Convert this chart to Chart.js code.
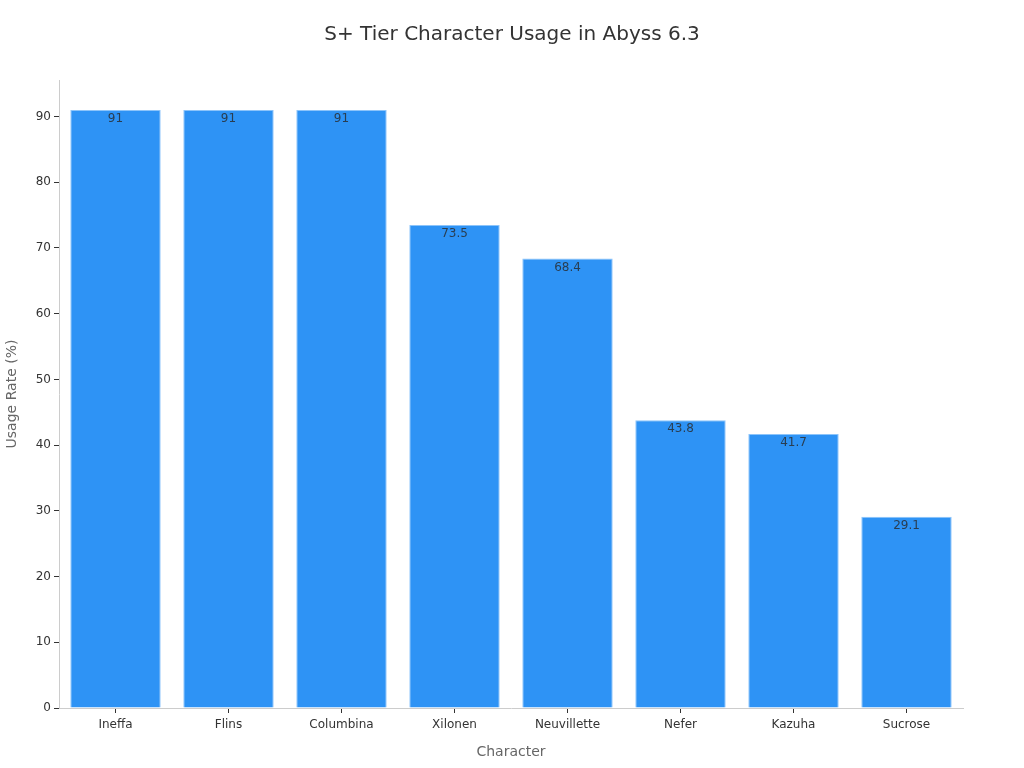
<!DOCTYPE html>
<html lang="en">
<head>
  <meta charset="UTF-8">
  <title>S+ Tier Character Usage</title>
  <style>
    *{
      margin: 0;
      padding: 0;
    }
    body{
      background: #fff;
    }
  </style>
</head>
<body>
  <canvas id="myChart" width="1024" height="768"></canvas>
  <script src="https://cdn.jsdelivr.net/npm/chart.js"></script>
  <script>
    const characters = ['Ineffa', 'Flins', 'Columbina', 'Xilonen', 'Neuvillette', 'Nefer', 'Kazuha', 'Sucrose'];
    const usageRates = [91, 91, 91, 73.5, 68.4, 43.8, 41.7, 29.1];
    const yTicks = [0, 10, 20, 30, 40, 50, 60, 70, 80, 90];

    Chart.defaults.font.family = '"DejaVu Sans", sans-serif';
    Chart.defaults.color = '#333';

    // value labels just inside the top of each bar
    const barLabels = {
      id: 'barLabels',
      afterDatasetsDraw(chart){
        const ctx = chart.ctx;
        const meta = chart.getDatasetMeta(0);
        ctx.save();
        ctx.font = '12px "DejaVu Sans", sans-serif';
        ctx.fillStyle = 'rgba(40,40,40,0.8)';
        ctx.textAlign = 'center';
        ctx.textBaseline = 'middle';
        meta.data.forEach((bar, i) => {
          ctx.fillText(String(usageRates[i]), bar.x, bar.y + 9);
        });
        ctx.restore();
      }
    };

    const data = {
      labels: characters,
      datasets: [{
        label: 'Usage Rate (%)',
        data: usageRates,
        backgroundColor: '#2e93f5',
        borderColor: '#8cc4fa',
        borderWidth: 1,
        categoryPercentage: 0.8,
        barPercentage: 1
      }]
    };

    const config = {
      type: 'bar',
      data,
      options: {
        responsive: false,
        animation: false,
        layout: {
          padding: 0
        },
        plugins: {
          legend: { display: false },
          tooltip: { enabled: false },
          title: {
            display: true,
            text: 'S+ Tier Character Usage in Abyss 6.3',
            color: '#333',
            font: { size: 20, weight: 'normal' },
            padding: { top: 23, bottom: 33 }
          }
        },
        scales: {
          x: {
            grid: {
              display: true,
              drawOnChartArea: false,
              tickLength: 5,
              color: '#333',
              offset: false
            },
            border: { color: '#ccc' },
            ticks: { font: { size: 12 }, color: '#333', padding: 5 },
            title: {
              display: true,
              text: 'Character',
              color: '#666',
              font: { size: 14 },
              padding: { top: 6, bottom: 7 }
            },
            afterFit(scale){ scale.height = 60; }
          },
          y: {
            min: 0,
            max: 95.55,
            afterBuildTicks(scale){
              scale.ticks = yTicks.map(v => ({ value: v }));
            },
            grid: {
              display: true,
              drawOnChartArea: false,
              tickLength: 5,
              color: '#333'
            },
            border: { color: '#ccc' },
            ticks: { font: { size: 12 }, color: '#333', padding: 3 },
            title: {
              display: true,
              text: 'Usage Rate (%)',
              color: '#666',
              font: { size: 14 },
              padding: { bottom: 4 }
            },
            afterFit(scale){ scale.width = 59; }
          },
          // empty right-hand spacer so the title stays centred on the page
          yRight: {
            position: 'right',
            display: true,
            grid: { display: false },
            border: { display: false },
            ticks: { display: false },
            afterFit(scale){ scale.width = 61; }
          }
        }
      },
      plugins: [barLabels]
    };

    const myChart = new Chart(document.getElementById('myChart'), config);
  </script>
</body>
</html>
